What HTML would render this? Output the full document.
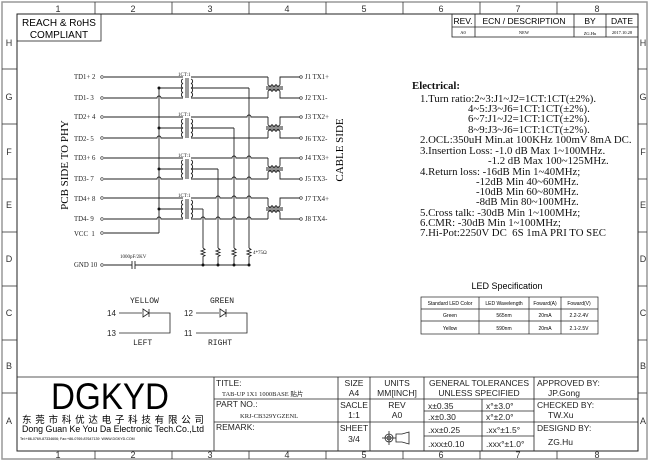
<!DOCTYPE html>
<html><head><meta charset="utf-8"><style>
html,body{margin:0;padding:0;background:#fff}
svg{display:block}
.s{font-family:"Liberation Sans","Noto Sans CJK SC",sans-serif}
.r{font-family:"Liberation Serif",serif}
.m{font-family:"Liberation Mono",monospace}
</style></head><body>
<svg width="650" height="462" viewBox="0 0 650 462" xmlns="http://www.w3.org/2000/svg">
<rect x="2" y="2" width="645" height="457" fill="#fff" stroke="#999" stroke-width="1.5"/>
<rect x="17" y="14" width="621" height="437" fill="none" stroke="#222" stroke-width="1"/>
<g stroke="#333" stroke-width="0.8">
<line x1="95" y1="2" x2="95" y2="14"/><line x1="172" y1="2" x2="172" y2="14"/><line x1="249" y1="2" x2="249" y2="14"/><line x1="326" y1="2" x2="326" y2="14"/><line x1="403" y1="2" x2="403" y2="14"/><line x1="480" y1="2" x2="480" y2="14"/><line x1="557" y1="2" x2="557" y2="14"/>
<line x1="95" y1="451" x2="95" y2="459"/><line x1="172" y1="451" x2="172" y2="459"/><line x1="249" y1="451" x2="249" y2="459"/><line x1="326" y1="451" x2="326" y2="459"/><line x1="403" y1="451" x2="403" y2="459"/><line x1="480" y1="451" x2="480" y2="459"/><line x1="557" y1="451" x2="557" y2="459"/>
<line x1="2" y1="69" x2="17" y2="69"/><line x1="2" y1="124" x2="17" y2="124"/><line x1="2" y1="179" x2="17" y2="179"/><line x1="2" y1="232" x2="17" y2="232"/><line x1="2" y1="286" x2="17" y2="286"/><line x1="2" y1="340" x2="17" y2="340"/><line x1="2" y1="393" x2="17" y2="393"/>
<line x1="638" y1="69" x2="647" y2="69"/><line x1="638" y1="124" x2="647" y2="124"/><line x1="638" y1="179" x2="647" y2="179"/><line x1="638" y1="232" x2="647" y2="232"/><line x1="638" y1="286" x2="647" y2="286"/><line x1="638" y1="340" x2="647" y2="340"/><line x1="638" y1="393" x2="647" y2="393"/>
</g>
<g class="s" font-size="9" fill="#333" text-anchor="middle">
<text x="58" y="12">1</text><text x="133" y="12">2</text><text x="210" y="12">3</text><text x="287" y="12">4</text><text x="364" y="12">5</text><text x="441" y="12">6</text><text x="518" y="12">7</text><text x="597" y="12">8</text>
<text x="58" y="458">1</text><text x="133" y="458">2</text><text x="210" y="458">3</text><text x="287" y="458">4</text><text x="364" y="458">5</text><text x="441" y="458">6</text><text x="518" y="458">7</text><text x="597" y="458">8</text>
<text x="9" y="46">H</text><text x="9" y="100">G</text><text x="9" y="155">F</text><text x="9" y="208">E</text><text x="9" y="262">D</text><text x="9" y="316">C</text><text x="9" y="369">B</text><text x="9" y="424">A</text>
<text x="643" y="46">H</text><text x="643" y="100">G</text><text x="643" y="155">F</text><text x="643" y="208">E</text><text x="643" y="262">D</text><text x="643" y="316">C</text><text x="643" y="369">B</text><text x="643" y="424">A</text>
</g>
<rect x="17" y="14" width="84" height="27" fill="none" stroke="#222" stroke-width="0.8"/>
<text class="s" x="59" y="26" font-size="10" text-anchor="middle">REACH &amp; RoHS</text>
<text class="s" x="59" y="38" font-size="10" text-anchor="middle">COMPLIANT</text>
<g stroke="#222" stroke-width="0.8" fill="none">
<rect x="452" y="14" width="186" height="23"/>
<line x1="452" y1="27" x2="638" y2="27"/>
<line x1="475" y1="14" x2="475" y2="37"/><line x1="574" y1="14" x2="574" y2="37"/><line x1="606" y1="14" x2="606" y2="37"/>
</g>
<g class="s" font-size="8.5" text-anchor="middle">
<text x="463" y="24">REV.</text><text x="524" y="24">ECN / DESCRIPTION</text><text x="590" y="24">BY</text><text x="622" y="24">DATE</text>
</g>
<g class="r" font-size="4.5" text-anchor="middle">
<text x="463" y="34">A0</text><text x="524" y="34">NEW</text><text x="590" y="35">ZG.Hu</text><text x="622" y="34">2017.10.28</text>
</g>
<g class="r" font-size="6.8" fill="#222">
<text x="74" y="79">TD1+ 2</text><text x="74" y="100">TD1- 3</text>
<text x="74" y="119">TD2+ 4</text><text x="74" y="141">TD2- 5</text>
<text x="74" y="160">TD3+ 6</text><text x="74" y="181">TD3- 7</text>
<text x="74" y="201">TD4+ 8</text><text x="74" y="221">TD4- 9</text>
<text x="74" y="236">VCC&#160; 1</text><text x="74" y="267">GND 10</text>
<text x="305" y="79">J1 TX1+</text><text x="305" y="100">J2 TX1-</text>
<text x="305" y="119">J3 TX2+</text><text x="305" y="141">J6 TX2-</text>
<text x="305" y="160">J4 TX3+</text><text x="305" y="181">J5 TX3-</text>
<text x="305" y="201">J7 TX4+</text><text x="305" y="221">J8 TX4-</text>
<text x="178" y="76" font-size="5">1CT:1</text><text x="178" y="116" font-size="5">1CT:1</text><text x="178" y="157" font-size="5">1CT:1</text><text x="178" y="197" font-size="5">1CT:1</text>
<text x="120" y="258" font-size="5">1000pF/2KV</text>
<text x="253" y="254" font-size="5">4*75Ω</text>
</g>
<text class="r" x="68" y="165" font-size="11" transform="rotate(-90 68 165)" text-anchor="middle">PCB SIDE TO PHY</text>
<text class="r" x="343" y="150" font-size="11" transform="rotate(-90 343 150)" text-anchor="middle">CABLE SIDE</text>
<g stroke="#222" stroke-width="0.9" fill="none">
<g>
<line x1="104" y1="77" x2="183" y2="77"/><path d="M104,98 H157 a2,2 0 0 1 4,0 H183"/>
<line x1="159" y1="88" x2="183" y2="88"/>
<path d="M183,79 a2,2.3 0 0 0 0,4.5 a2,2.3 0 0 0 0,4.5 a2,2.3 0 0 0 0,4.5 a2,2.3 0 0 0 0,4.5"/>
<path d="M191,79 a2,2.3 0 0 1 0,4.5 a2,2.3 0 0 1 0,4.5 a2,2.3 0 0 1 0,4.5 a2,2.3 0 0 1 0,4.5"/>
<line x1="186" y1="78" x2="186" y2="98"/><line x1="188" y1="78" x2="188" y2="98"/>
<line x1="191" y1="77" x2="268" y2="77"/><line x1="191" y1="98" x2="268" y2="98"/>
<line x1="191" y1="88" x2="249" y2="88"/>
<path d="M268,77 V84 a2,2 0 0 0 4,0 a2,2 0 0 0 4,0 a2,2 0 0 0 4,0 V77 H300"/>
<path d="M268,98 V92 a2,2 0 0 1 4,0 a2,2 0 0 1 4,0 a2,2 0 0 1 4,0 V98 H300"/>
<line x1="266" y1="87" x2="283" y2="87"/><line x1="266" y1="89" x2="283" y2="89"/>
</g>
<g transform="translate(0,40)">
<line x1="104" y1="77" x2="183" y2="77"/><path d="M104,98 H157 a2,2 0 0 1 4,0 H183"/>
<line x1="159" y1="88" x2="183" y2="88"/>
<path d="M183,79 a2,2.3 0 0 0 0,4.5 a2,2.3 0 0 0 0,4.5 a2,2.3 0 0 0 0,4.5 a2,2.3 0 0 0 0,4.5"/>
<path d="M191,79 a2,2.3 0 0 1 0,4.5 a2,2.3 0 0 1 0,4.5 a2,2.3 0 0 1 0,4.5 a2,2.3 0 0 1 0,4.5"/>
<line x1="186" y1="78" x2="186" y2="98"/><line x1="188" y1="78" x2="188" y2="98"/>
<path d="M191,77 H247 a2,2 0 0 1 4,0 H268"/><line x1="191" y1="98" x2="268" y2="98"/>
<line x1="191" y1="88" x2="234" y2="88"/>
<path d="M268,77 V84 a2,2 0 0 0 4,0 a2,2 0 0 0 4,0 a2,2 0 0 0 4,0 V77 H300"/>
<path d="M268,98 V92 a2,2 0 0 1 4,0 a2,2 0 0 1 4,0 a2,2 0 0 1 4,0 V98 H300"/>
<line x1="266" y1="87" x2="283" y2="87"/><line x1="266" y1="89" x2="283" y2="89"/>
</g>
<g transform="translate(0,81)">
<line x1="104" y1="77" x2="183" y2="77"/><path d="M104,98 H157 a2,2 0 0 1 4,0 H183"/>
<line x1="159" y1="88" x2="183" y2="88"/>
<path d="M183,79 a2,2.3 0 0 0 0,4.5 a2,2.3 0 0 0 0,4.5 a2,2.3 0 0 0 0,4.5 a2,2.3 0 0 0 0,4.5"/>
<path d="M191,79 a2,2.3 0 0 1 0,4.5 a2,2.3 0 0 1 0,4.5 a2,2.3 0 0 1 0,4.5 a2,2.3 0 0 1 0,4.5"/>
<line x1="186" y1="78" x2="186" y2="98"/><line x1="188" y1="78" x2="188" y2="98"/>
<path d="M191,77 H232 a2,2 0 0 1 4,0 H247 a2,2 0 0 1 4,0 H268"/><path d="M191,98 H232 a2,2 0 0 1 4,0 H247 a2,2 0 0 1 4,0 H268"/>
<line x1="191" y1="88" x2="218" y2="88"/>
<path d="M268,77 V84 a2,2 0 0 0 4,0 a2,2 0 0 0 4,0 a2,2 0 0 0 4,0 V77 H300"/>
<path d="M268,98 V92 a2,2 0 0 1 4,0 a2,2 0 0 1 4,0 a2,2 0 0 1 4,0 V98 H300"/>
<line x1="266" y1="87" x2="283" y2="87"/><line x1="266" y1="89" x2="283" y2="89"/>
</g>
<g transform="translate(0,121)">
<line x1="104" y1="77" x2="183" y2="77"/><path d="M104,98 H157 a2,2 0 0 1 4,0 H183"/>
<line x1="159" y1="88" x2="183" y2="88"/>
<path d="M183,79 a2,2.3 0 0 0 0,4.5 a2,2.3 0 0 0 0,4.5 a2,2.3 0 0 0 0,4.5 a2,2.3 0 0 0 0,4.5"/>
<path d="M191,79 a2,2.3 0 0 1 0,4.5 a2,2.3 0 0 1 0,4.5 a2,2.3 0 0 1 0,4.5 a2,2.3 0 0 1 0,4.5"/>
<line x1="186" y1="78" x2="186" y2="98"/><line x1="188" y1="78" x2="188" y2="98"/>
<path d="M191,77 H216 a2,2 0 0 1 4,0 H232 a2,2 0 0 1 4,0 H247 a2,2 0 0 1 4,0 H268"/><path d="M191,98 H201 a2,2 0 0 1 4,0 H216 a2,2 0 0 1 4,0 H232 a2,2 0 0 1 4,0 H247 a2,2 0 0 1 4,0 H268"/>
<line x1="191" y1="88" x2="203" y2="88"/>
<path d="M268,77 V84 a2,2 0 0 0 4,0 a2,2 0 0 0 4,0 a2,2 0 0 0 4,0 V77 H300"/>
<path d="M268,98 V92 a2,2 0 0 1 4,0 a2,2 0 0 1 4,0 a2,2 0 0 1 4,0 V98 H300"/>
<line x1="266" y1="87" x2="283" y2="87"/><line x1="266" y1="89" x2="283" y2="89"/>
</g>
<line x1="159" y1="88" x2="159" y2="233"/><line x1="104" y1="233" x2="159" y2="233"/>
<line x1="249" y1="88" x2="249" y2="248"/><line x1="234" y1="128" x2="234" y2="248"/><line x1="218" y1="169" x2="218" y2="248"/><line x1="203" y1="209" x2="203" y2="248"/>
<path d="M249,248 l2,1.5 l-4,1.5 l4,1.5 l-4,1.5 l4,1.5 l-2,1 V265"/>
<path d="M234,248 l2,1.5 l-4,1.5 l4,1.5 l-4,1.5 l4,1.5 l-2,1 V265"/>
<path d="M218,248 l2,1.5 l-4,1.5 l4,1.5 l-4,1.5 l4,1.5 l-2,1 V265"/>
<path d="M203,248 l2,1.5 l-4,1.5 l4,1.5 l-4,1.5 l4,1.5 l-2,1 V265"/>
<line x1="104" y1="265" x2="132" y2="265"/><line x1="132" y1="261" x2="132" y2="269"/><line x1="135" y1="261" x2="135" y2="269"/><line x1="135" y1="265" x2="249" y2="265"/>
</g>
<g fill="#fff" stroke="#222" stroke-width="0.6">
<circle cx="102" cy="77" r="1.3"/><circle cx="102" cy="98" r="1.3"/><circle cx="102" cy="117" r="1.3"/><circle cx="102" cy="138" r="1.3"/><circle cx="102" cy="158" r="1.3"/><circle cx="102" cy="179" r="1.3"/><circle cx="102" cy="198" r="1.3"/><circle cx="102" cy="219" r="1.3"/><circle cx="102" cy="233" r="1.3"/><circle cx="102" cy="265" r="1.3"/>
<circle cx="301" cy="77" r="1.3"/><circle cx="301" cy="98" r="1.3"/><circle cx="301" cy="117" r="1.3"/><circle cx="301" cy="138" r="1.3"/><circle cx="301" cy="158" r="1.3"/><circle cx="301" cy="179" r="1.3"/><circle cx="301" cy="198" r="1.3"/><circle cx="301" cy="219" r="1.3"/>
</g>
<g fill="#111">
<circle cx="159" cy="88" r="1.5"/><circle cx="159" cy="128" r="1.5"/><circle cx="159" cy="169" r="1.5"/><circle cx="159" cy="209" r="1.5"/>
<circle cx="203" cy="265" r="1.5"/><circle cx="218" cy="265" r="1.5"/><circle cx="234" cy="265" r="1.5"/><circle cx="249" cy="265" r="1.5"/>
</g>
<g class="m" font-size="8" fill="#222">
<text x="130" y="303">YELLOW</text><text x="210" y="303">GREEN</text>
<text x="133" y="345">LEFT</text><text x="208" y="345">RIGHT</text>
</g>
<g class="s" font-size="8" fill="#222">
<text x="107" y="316">14</text><text x="107" y="336">13</text>
<text x="184" y="316">12</text><text x="184" y="336">11</text>
</g>
<g stroke="#222" stroke-width="0.8" fill="none">
<path d="M119,313 H142 M149,313 H170 V333 H119"/><path d="M143,309 V317 L149,313 Z M149,309 V317"/>
<path d="M196,313 H219 M226,313 H247 V333 H196"/><path d="M220,309 V317 L226,313 Z M226,309 V317"/>
</g>
<g class="r" font-size="10.8" fill="#111">
<text x="412" y="89" font-weight="bold">Electrical:</text>
<text x="420" y="102">1.Turn ratio:2~3:J1~J2=1CT:1CT(±2%).</text>
<text x="468" y="112">4~5:J3~J6=1CT:1CT(±2%).</text>
<text x="468" y="122">6~7:J1~J2=1CT:1CT(±2%).</text>
<text x="468" y="133">8~9:J3~J6=1CT:1CT(±2%).</text>
<text x="420" y="143">2.OCL:350uH Min.at 100KHz 100mV 8mA DC.</text>
<text x="420" y="154">3.Insertion Loss: -1.0 dB Max 1~100MHz.</text>
<text x="488" y="164">-1.2 dB Max 100~125MHz.</text>
<text x="420" y="175">4.Return loss: -16dB Min 1~40MHz;</text>
<text x="476" y="185">-12dB Min 40~60MHz.</text>
<text x="476" y="195">-10dB Min 60~80MHz.</text>
<text x="476" y="205">-8dB Min 80~100MHz.</text>
<text x="420" y="216">5.Cross talk: -30dB Min 1~100MHz;</text>
<text x="420" y="226">6.CMR: -30dB Min 1~100MHz;</text>
<text x="420" y="236">7.Hi-Pot:2250V DC&#160; 6S 1mA PRI TO SEC</text>
</g>
<text class="s" x="507" y="289" font-size="9" text-anchor="middle">LED Specification</text>
<g stroke="#222" stroke-width="0.7" fill="none">
<rect x="421" y="297" width="177" height="37"/>
<line x1="421" y1="309" x2="598" y2="309"/><line x1="421" y1="321" x2="598" y2="321"/>
<line x1="479" y1="297" x2="479" y2="334"/><line x1="529" y1="297" x2="529" y2="334"/><line x1="561" y1="297" x2="561" y2="334"/>
</g>
<g class="s" font-size="5" text-anchor="middle">
<text x="450" y="305">Standard LED Color</text><text x="504" y="305">LED Wavelength</text><text x="545" y="305">Foward(A)</text><text x="579" y="305">Foward(V)</text>
<text x="450" y="317">Green</text><text x="504" y="317">565nm</text><text x="545" y="317">20mA</text><text x="579" y="317">2.2-2.4V</text>
<text x="450" y="330">Yellow</text><text x="504" y="330">590nm</text><text x="545" y="330">20mA</text><text x="579" y="330">2.1-2.5V</text>
</g>
<g stroke="#222" stroke-width="0.8" fill="none">
<line x1="17" y1="377" x2="638" y2="377"/>
<line x1="214" y1="377" x2="214" y2="451"/><line x1="338" y1="377" x2="338" y2="451"/><line x1="370" y1="377" x2="370" y2="451"/><line x1="424" y1="377" x2="424" y2="451"/><line x1="534" y1="377" x2="534" y2="451"/>
<line x1="482" y1="399" x2="482" y2="451"/>
<line x1="214" y1="399" x2="424" y2="399"/><line x1="214" y1="422" x2="424" y2="422"/>
<line x1="424" y1="399" x2="534" y2="399"/><line x1="424" y1="411" x2="534" y2="411"/><line x1="424" y1="422" x2="534" y2="422"/><line x1="424" y1="436" x2="534" y2="436"/>
<line x1="534" y1="399" x2="638" y2="399"/><line x1="534" y1="422" x2="638" y2="422"/>
<circle cx="389" cy="438" r="4"/><circle cx="389" cy="438" r="2"/><line x1="382" y1="438" x2="396" y2="438"/><line x1="389" y1="431" x2="389" y2="445"/>
<path d="M396,434 H402 L409,432 V444 L402,442 H396 Z"/>
</g>
<text class="s" x="110" y="409" font-size="37" text-anchor="middle" textLength="118" lengthAdjust="spacingAndGlyphs">DGKYD</text>
<text class="s" x="22" y="423" font-size="9.5" textLength="182" lengthAdjust="spacing">东莞市科优达电子科技有限公司</text>
<text class="s" x="22" y="432" font-size="9" textLength="182" lengthAdjust="spacingAndGlyphs">Dong Guan Ke You Da Electronic Tech.Co.,Ltd</text>
<text class="s" x="20" y="440" font-size="3.6">Tel:+86-0769-87334606; Fax:+86-0769-87647139&#160; WWW.DGKYD.COM</text>
<g class="s" font-size="8.5" fill="#222">
<text x="216" y="386">TITLE:</text><text x="216" y="407">PART NO.:</text><text x="216" y="430">REMARK:</text>
<text x="354" y="386" text-anchor="middle">SIZE</text><text x="354" y="396" text-anchor="middle">A4</text>
<text x="354" y="408" text-anchor="middle">SACLE</text><text x="354" y="418" text-anchor="middle">1:1</text>
<text x="354" y="431" text-anchor="middle">SHEET</text><text x="354" y="442" text-anchor="middle">3/4</text>
<text x="397" y="386" text-anchor="middle">UNITS</text><text x="397" y="396" text-anchor="middle">MM[INCH]</text>
<text x="397" y="408" text-anchor="middle">REV</text><text x="397" y="418" text-anchor="middle">A0</text>
<text x="479" y="386" text-anchor="middle">GENERAL TOLERANCES</text><text x="479" y="396" text-anchor="middle">UNLESS SPECIFIED</text>
<text x="428" y="409">x±0.35</text><text x="486" y="409">x°±3.0°</text>
<text x="428" y="420">.x±0.30</text><text x="486" y="420">x°±2.0°</text>
<text x="428" y="433">.xx±0.25</text><text x="486" y="433">.xx°±1.5°</text>
<text x="428" y="447">.xxx±0.10</text><text x="486" y="447">.xxx°±1.0°</text>
<text x="537" y="386">APPROVED BY:</text><text x="548" y="396">JP.Gong</text>
<text x="537" y="408">CHECKED BY:</text><text x="548" y="418">TW.Xu</text>
<text x="537" y="431">DESIGND BY:</text><text x="548" y="445">ZG.Hu</text>
</g>
<text class="r" x="222" y="396" font-size="6.5" fill="#222">TAB-UP 1X1 1000BASE <tspan font-family="Noto Sans CJK SC">贴片</tspan></text>
<text class="r" x="240" y="418" font-size="6.5" fill="#222">KRJ-CB329YGZENL</text>
</svg>
</body></html>
